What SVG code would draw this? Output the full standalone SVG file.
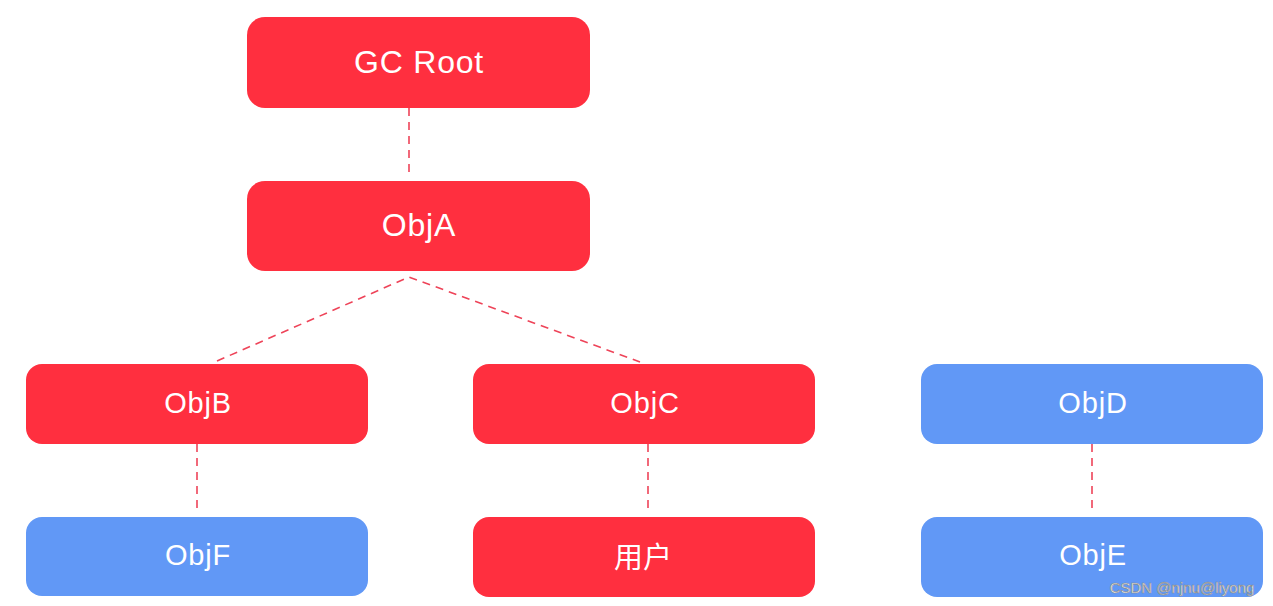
<svg xmlns="http://www.w3.org/2000/svg" width="1273" height="606" viewBox="0 0 1273 606">
<style>
.r{fill:#FF2F3F}
.b{fill:#6198F6}
.t{fill:#fff;font-family:"Liberation Sans","Noto Sans CJK SC",sans-serif;text-anchor:middle;dominant-baseline:central}
.big{font-size:32px;letter-spacing:0.8px}
.sm{font-size:29px;letter-spacing:0.8px}
.cjk{font-size:29px;font-family:"Noto Sans CJK SC",sans-serif}
.c{fill:none;stroke:#EE4459;stroke-width:1.6;stroke-dasharray:8 6}
</style>
<rect width="1273" height="606" fill="#fff"/>
<g id="connectors">
<line class="c" x1="409" y1="108" x2="409" y2="174"/>
<polyline class="c" points="217,361 409,277 640,362"/>
<line class="c" x1="197" y1="444" x2="197" y2="509"/>
<line class="c" x1="648" y1="444" x2="648" y2="509"/>
<line class="c" x1="1092" y1="444" x2="1092" y2="509"/>
</g>
<g id="gcroot"><rect class="r" x="247" y="17" width="343" height="91" rx="18"/><text class="t big" x="419" y="62">GC Root</text></g>
<g id="objA"><rect class="r" x="247" y="181" width="343" height="90" rx="18"/><text class="t big" x="419" y="225">ObjA</text></g>
<g id="objB"><rect class="r" x="26" y="364" width="342" height="80" rx="16"/><text class="t sm" x="198" y="403">ObjB</text></g>
<g id="objC"><rect class="r" x="473" y="364" width="342" height="80" rx="16"/><text class="t sm" x="645" y="403">ObjC</text></g>
<g id="objD"><rect class="b" x="921" y="364" width="342" height="80" rx="16"/><text class="t sm" x="1093" y="403">ObjD</text></g>
<g id="objF"><rect class="b" x="26" y="517" width="342" height="79" rx="16"/><text class="t sm" x="198" y="555">ObjF</text></g>
<g id="user"><rect class="r" x="473" y="517" width="342" height="80" rx="16"/><text class="t cjk" x="643" y="555">用户</text></g>
<g id="objE"><rect class="b" x="921" y="517" width="342" height="80" rx="16"/><text class="t sm" x="1093" y="555">ObjE</text></g>
<text x="1182" y="587" font-family="'Liberation Sans',sans-serif" font-size="15" fill="#fff" stroke="#888" stroke-width="0.6" text-anchor="middle" dominant-baseline="central">CSDN @njnu@liyong</text>
</svg>
